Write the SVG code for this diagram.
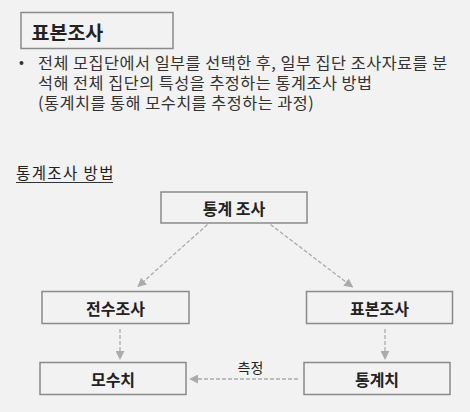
<svg xmlns="http://www.w3.org/2000/svg" width="470" height="412" viewBox="0 0 470 412">
<defs>
<style>
text{font-family:"Noto Sans CJK KR","Noto Sans",sans-serif;fill:#222}
.box{fill:none;stroke:#8a8a8a;stroke-width:1.5}
.lbl{font-size:16px;font-weight:700;text-anchor:middle;dominant-baseline:central}
.body{font-size:16.3px;fill:#333;letter-spacing:0.5px}
.conn{stroke:#ababab;stroke-width:1.3;stroke-dasharray:4 2;fill:none;marker-end:url(#ah)}
</style>
<marker id="ah" viewBox="0 0 10 10" refX="9" refY="5" markerWidth="9" markerHeight="9" markerUnits="userSpaceOnUse" orient="auto">
<path d="M0,0 L10,5 L0,10 z" fill="#ababab"/>
</marker>
</defs>
<rect width="470" height="412" fill="#f2f2f2"/>
<g id="title">
<rect x="21" y="12.5" width="152" height="36" fill="none" stroke="#8a8a8a" stroke-width="1.5"/>
<text x="31.5" y="31" font-size="19.5" font-weight="700" dominant-baseline="central">표본조사</text>
</g>
<g id="description">
<circle cx="21.5" cy="63" r="2" fill="#333"/>
<text class="body"><tspan x="38" y="69">전체 모집단에서 일부를 선택한 후, 일부 집단 조사자료를 분</tspan><tspan x="38" y="89">석해 전체 집단의 특성을 추정하는 통계조사 방법</tspan><tspan x="38" y="109">(통계치를 통해 모수치를 추정하는 과정)</tspan></text>
</g>
<g id="section-header">
<text x="16" y="179" font-size="15.5" fill="#333" letter-spacing="1.4">통계조사 방법</text>
<line x1="16" y1="182.5" x2="113" y2="182.5" stroke="#333" stroke-width="1"/>
</g>
<g id="connectors">
<line class="conn" x1="207.5" y1="224.5" x2="138" y2="286.5"/>
<line class="conn" x1="270.5" y1="224.5" x2="352.5" y2="287"/>
<line class="conn" x1="120" y1="329" x2="120" y2="359"/>
<line class="conn" x1="385" y1="329" x2="385" y2="359"/>
<line class="conn" x1="298" y1="379" x2="190" y2="379"/>
<text x="250.5" y="373" font-size="14" text-anchor="middle" fill="#333">측정</text>
</g>
<g id="node-survey">
<rect class="box" x="161" y="192" width="146" height="31"/>
<text class="lbl" x="234" y="207.5">통계 조사</text>
</g>
<g id="node-census">
<rect class="box" x="42" y="291.5" width="147" height="32"/>
<text class="lbl" x="115.5" y="307.5">전수조사</text>
</g>
<g id="node-sample">
<rect class="box" x="306.5" y="291.5" width="146" height="32"/>
<text class="lbl" x="379.5" y="307.5">표본조사</text>
</g>
<g id="node-parameter">
<rect class="box" x="40" y="362.5" width="146" height="32"/>
<text class="lbl" x="113" y="378.5">모수치</text>
</g>
<g id="node-statistic">
<rect class="box" x="304" y="362.5" width="146" height="32"/>
<text class="lbl" x="377" y="378.5">통계치</text>
</g>
</svg>
